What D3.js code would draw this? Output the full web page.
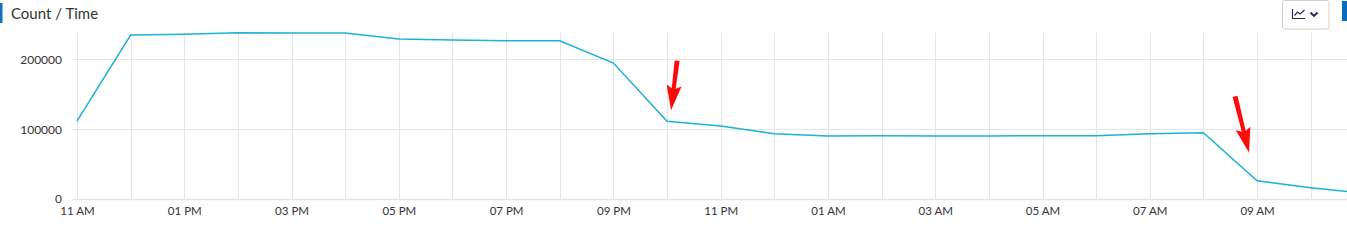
<!DOCTYPE html>
<html>
<head>
<meta charset="utf-8">
<script src="https://cdn.jsdelivr.net/npm/d3@7"></script>
<style>
  html, body { margin: 0; padding: 0; background: #fff; overflow: hidden; }
  svg { display: block; }
</style>
</head>
<body>
<svg id="chart" width="1347" height="240"></svg>
<script>
const title = "Count / Time";
const times = [
  "2021-03-01T11:00","2021-03-01T12:00","2021-03-01T13:00","2021-03-01T14:00","2021-03-01T15:00",
  "2021-03-01T16:00","2021-03-01T17:00","2021-03-01T18:00","2021-03-01T19:00","2021-03-01T20:00",
  "2021-03-01T21:00","2021-03-01T22:00","2021-03-01T23:00","2021-03-02T00:00","2021-03-02T01:00",
  "2021-03-02T02:00","2021-03-02T03:00","2021-03-02T04:00","2021-03-02T05:00","2021-03-02T06:00",
  "2021-03-02T07:00","2021-03-02T08:00","2021-03-02T09:00","2021-03-02T10:00","2021-03-02T11:00"
];
const counts = [
  111700, 235000, 236200, 238300, 237800,
  237800, 229200, 227800, 226800, 226800,
  194800, 111300, 104600, 93600, 90300,
  90700, 90300, 90300, 90700, 90700,
  93600, 95000, 26200, 16200, 7900
];
const yTicks = [0, 100000, 200000];
// annotation arrows: index of the data point they point at
const arrowAt = [11, 22];

const parse = d3.timeParse("%Y-%m-%dT%H:%M");
const data = times.map((t, i) => ({ t: parse(t), v: counts[i] }));

const svg = d3.select("#chart");
const margin = { left: 77, top: 32.7, bottom: 41 };
const H = 240;
const hourW = 53.64;

const x = d3.scaleTime()
  .domain(d3.extent(data, d => d.t))
  .range([margin.left, margin.left + hourW * (data.length - 1)]);
const y = d3.scaleLinear()
  .domain([0, d3.max(counts)])
  .range([H - margin.bottom, margin.top]);

const gridColor = "#e5e5e5";
const textColor = "#333";
const font = "Lato, 'Open Sans', sans-serif";

// vertical grid lines every hour
svg.append("g").selectAll("line").data(data).join("line")
  .attr("x1", d => Math.round(x(d.t)) + 0.5).attr("x2", d => Math.round(x(d.t)) + 0.5)
  .attr("y1", y.range()[1]).attr("y2", y(0))
  .attr("stroke", gridColor).attr("stroke-width", 1);

// horizontal grid lines
svg.append("g").selectAll("line").data(yTicks).join("line")
  .attr("x1", margin.left - 5).attr("x2", 1347)
  .attr("y1", d => Math.round(y(d)) + 0.5).attr("y2", d => Math.round(y(d)) + 0.5)
  .attr("stroke", gridColor).attr("stroke-width", d => d === 0 ? 1.5 : 1);

// y axis labels
const yAxis = d3.axisLeft(y).tickValues(yTicks).tickSize(0).tickPadding(15).tickFormat(d3.format("d"));
const gy = svg.append("g").attr("transform", `translate(${margin.left},0)`).call(yAxis);
gy.select(".domain").remove();
gy.selectAll("text").attr("fill", textColor).style("font-family", font).style("font-size", "12px");

// x axis labels
const xTickVals = data.filter((d, i) => i % 2 === 0 && i < data.length - 1).map(d => d.t);
const xAxis = d3.axisBottom(x).tickValues(xTickVals).tickSize(0).tickPadding(8).tickFormat(d3.timeFormat("%I %p"));
const gx = svg.append("g").attr("transform", `translate(0,${y(0)})`).call(xAxis);
gx.select(".domain").remove();
gx.selectAll("text").attr("fill", textColor).style("font-family", font).style("font-size", "11.5px");

// line
svg.append("path").datum(data)
  .attr("fill", "none")
  .attr("stroke", "#1bb2d8")
  .attr("stroke-width", 1.5)
  .attr("d", d3.line().x(d => x(d.t)).y(d => y(d.v)));

// red annotation arrows
const arrowSpecs = [
  { dx: 4, dy: -11, len: 50, ang: 7 },
  { dx: -8, dy: -28, len: 58, ang: -14 }
];
arrowAt.forEach((idx, k) => {
  const s = arrowSpecs[k];
  const tx = x(data[idx].t) + s.dx, ty = y(data[idx].v) + s.dy;
  const g = svg.append("g").attr("transform", `translate(${tx},${ty}) rotate(${s.ang})`);
  g.append("path")
    .attr("d", `M0,0 L-7.5,-25 L-2,-22 L-2.5,${-s.len} L2.5,${-s.len} L2,-22 L7.5,-25 Z`)
    .attr("fill", "#ff0a0a");
});

// title + left accent
svg.append("rect").attr("x", 0).attr("y", 3).attr("width", 2.5).attr("height", 20).attr("fill", "#1570c0");
svg.append("text").attr("x", 11).attr("y", 19).text(title)
  .attr("fill", textColor).style("font-family", font).style("font-size", "15px");

// chart-type button at top right
svg.append("rect").attr("x", 1282.5).attr("y", 0.5).attr("width", 46.5).attr("height", 28.5)
  .attr("rx", 2).attr("fill", "#fff").attr("stroke", "#cfcfcf");
const icon = svg.append("g").attr("fill", "none").attr("stroke", "#2b2b55").attr("stroke-width", 1.2);
icon.append("path").attr("d", "M1292.5,9 L1292.5,18.5 L1305,18.5");
icon.append("path").attr("d", "M1294.5,15.5 L1297.5,12 L1300,14 L1304.5,10");
icon.append("path").attr("d", "M1310.5,12.5 L1314,16 L1317.5,12.5").attr("stroke-width", 1.8).attr("stroke", "#1e2a4a");
svg.append("rect").attr("x", 1342).attr("y", 1).attr("width", 6).attr("height", 20).attr("fill", "#0a6cc0");
</script>
</body>
</html>
